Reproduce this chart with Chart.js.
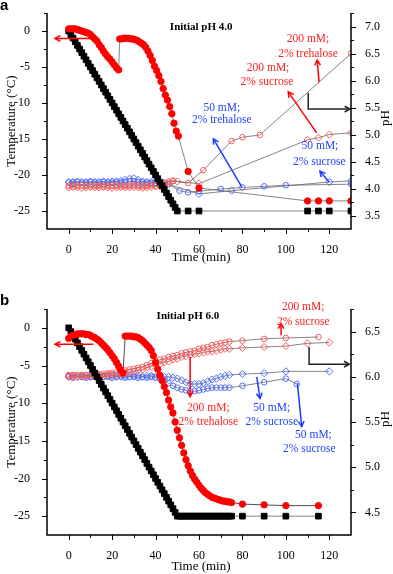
<!DOCTYPE html>
<html>
<head>
<meta charset="utf-8">
<script src="https://cdn.jsdelivr.net/npm/chart.js@4.4.1/dist/chart.umd.min.js"></script>
<style>
  body { margin: 0; background: #fff; }
  #wrap { position: relative; width: 393px; height: 574px; }
  canvas { position: absolute; left: 0; }
</style>
</head>
<body>
<div id="wrap">
  <canvas id="chartA" width="393" height="285" style="top:0"></canvas>
  <canvas id="chartB" width="393" height="289" style="top:285px"></canvas>
</div>
<script>
// Axis ticks
const timeTicks = [0, 20, 40, 60, 80, 100, 120];
const tempTicks = [-25, -20, -15, -10, -5, 0];
const phTicksA = [3.5, 4.0, 4.5, 5.0, 5.5, 6.0, 6.5, 7.0];
const phTicksB = [4.5, 5.0, 5.5, 6.0, 6.5];

// ---- Panel a (initial pH 4.0) ----
// cooling stage temperature (black squares)
const aCoolTime = [0,1,2,3,4,5,6,7,8,9,10,11,12,13,14,15,16,17,18,19,20,21,22,23,24,25,26,27,28,29,30,31,32,33,34,35,36,37,38,39,40,41,42,43,44,45,46,47,48,49,50,55,60,110,115,120,130];
const aCoolTemp = [0,-0.5,-1,-1.5,-2,-2.5,-3,-3.5,-4,-4.5,-5,-5.5,-6,-6.5,-7,-7.5,-8,-8.5,-9,-9.5,-10,-10.5,-11,-11.5,-12,-12.5,-13,-13.5,-14,-14.5,-15,-15.5,-16,-16.5,-17,-17.5,-18,-18.5,-19,-19.5,-20,-20.5,-21,-21.5,-22,-22.5,-23,-23.5,-24,-24.5,-25,-25,-25,-25,-25,-25,-25];
// sample temperature (red dots)
const aSampleTime = [0,1,2,3,4,5,6,7,8,9,10,11,12,13,14,15,16,17,18,19,20,21,22,23,23.5,24.5,25.5,26.5,27.5,28.5,29.5,30.5,31.5,32.5,33.5,34.5,35.5,36.5,37.5,38.5,39.5,40.5,41.5,42.5,43.5,44.5,45.5,46.5,47.5,48.5,49.5,50.5,55,60,110,115,120,130];
const aSampleTemp = [0.3,0.3,0.3,0.3,0.2,0.1,0,-0.1,-0.2,-0.3,-0.5,-0.8,-1.1,-1.4,-1.9,-2.3,-2.8,-3.2,-3.6,-3.9,-4.3,-4.7,-5.1,-5.4,-1.1,-1.1,-1.0,-1.0,-1.0,-1.1,-1.1,-1.2,-1.3,-1.5,-1.7,-1.9,-2.3,-2.8,-3.4,-4.1,-4.9,-5.5,-6.2,-7.0,-8.0,-8.9,-9.6,-10.5,-11.5,-12.8,-13.9,-14.6,-19.5,-21.8,-23.6,-23.6,-23.6,-23.6];
// pH series
const aTreh200Time = [0,2,4,6,8,10,12,14,16,18,20,22,24,26,28,30,32,34,36,38,40,42,44,46,48,55,62,75,80,88,130];
const aTreh200Ph = [4.05,4.04,4.05,4.06,4.05,4.04,4.05,4.05,4.04,4.05,4.06,4.05,4.04,4.05,4.05,4.06,4.05,4.04,4.05,4.06,4.05,4.08,4.10,4.13,4.14,4.10,4.34,4.88,4.95,4.99,6.50];
const aSuc200Time = [0,2,4,6,8,10,12,14,16,18,20,22,24,26,28,30,32,34,36,38,40,42,44,46,48,50,60,110,115,120,130];
const aSuc200Ph = [4.02,4.03,4.02,4.01,4.02,4.03,4.02,4.02,4.03,4.02,4.01,4.02,4.03,4.02,4.02,4.03,4.02,4.01,4.02,4.03,4.04,4.05,4.07,4.10,4.14,4.13,4.09,4.90,4.94,5.00,5.03];
const aTreh50Time = [0,2,4,6,8,10,12,14,16,18,20,22,24,26,28,30,32,34,36,38,40,42,44,46,51,55,60,70,80,90,100,130];
const aTreh50Ph = [4.11,4.11,4.12,4.11,4.11,4.12,4.11,4.11,4.12,4.11,4.11,4.12,4.11,4.12,4.13,4.13,4.12,4.11,4.11,4.10,4.10,4.10,4.09,4.08,3.96,3.93,3.95,3.99,4.02,4.04,4.06,4.08];
const aSuc50Time = [0,2,4,6,8,10,12,14,16,18,20,22,24,26,28,30,32,34,36,38,40,42,44,60,75,120,130];
const aSuc50Ph = [4.12,4.12,4.13,4.12,4.12,4.13,4.12,4.12,4.13,4.12,4.13,4.13,4.14,4.16,4.18,4.19,4.16,4.13,4.12,4.12,4.11,4.11,4.10,3.90,3.96,4.12,4.14];

// ---- Panel b (initial pH 6.0) ----
const bCoolTime = [0,1,2,3,4,5,6,7,8,9,10,11,12,13,14,15,16,17,18,19,20,21,22,23,24,25,26,27,28,29,30,31,32,33,34,35,36,37,38,39,40,41,42,43,44,45,46,47,48,49,50,51,52,53,54,55,56,57,58,59,60,61,62,63,64,65,66,67,68,69,70,71,72,73,74,75,80,90,100,115];
const bCoolTemp = [0,-0.5,-1,-1.5,-2,-2.5,-3,-3.5,-4,-4.5,-5,-5.5,-6,-6.5,-7,-7.5,-8,-8.5,-9,-9.5,-10,-10.5,-11,-11.5,-12,-12.5,-13,-13.5,-14,-14.5,-15,-15.5,-16,-16.5,-17,-17.5,-18,-18.5,-19,-19.5,-20,-20.5,-21,-21.5,-22,-22.5,-23,-23.5,-24,-24.5,-25,-25,-25,-25,-25,-25,-25,-25,-25,-25,-25,-25,-25,-25,-25,-25,-25,-25,-25,-25,-25,-25,-25,-25,-25,-25,-25,-25,-25,-25];
const bSampleTime = [0,1,2,3,4,5,6,7,8,9,10,11,12,13,14,15,16,17,18,19,20,21,22,23,24,25,26,27,28,29,30,31,32,33,34,35,36,37,38,39,40,41,42,43,44,45,46,47,48,49,50,51,52,53,54,55,56,57,58,59,60,61,62,63,64,65,66,67,68,69,70,71,72,73,74,75,80,90,100,115];
const bSampleTemp = [-1.4,-1.1,-1.0,-0.9,-0.8,-0.8,-0.8,-0.8,-0.9,-0.9,-1.0,-1.2,-1.3,-1.5,-1.7,-2.0,-2.3,-2.6,-2.9,-3.3,-3.7,-4.1,-4.6,-5.1,-5.6,-6.0,-1.1,-1.1,-1.1,-1.1,-1.2,-1.2,-1.3,-1.5,-1.7,-2.0,-2.3,-2.6,-3.0,-3.7,-4.6,-5.5,-6.3,-7.0,-7.8,-8.6,-9.6,-10.5,-11.3,-12.5,-13.6,-14.6,-15.6,-16.6,-17.5,-18.3,-19.0,-19.6,-20.1,-20.5,-20.9,-21.3,-21.6,-21.9,-22.1,-22.3,-22.5,-22.6,-22.7,-22.8,-22.9,-23.0,-23.0,-23.1,-23.1,-23.2,-23.4,-23.5,-23.6,-23.6];
const bSuc200Time = [0,2,4,6,8,10,12,14,16,18,20,22,24,26,28,30,32,34,36,38,40,42,44,46,48,50,52,54,56,58,60,62,64,66,68,70,72,74,80,90,100,115];
const bSuc200Ph = [6.02,6.02,6.02,6.02,6.02,6.02,6.03,6.03,6.03,6.04,6.04,6.05,6.06,6.07,6.08,6.09,6.10,6.11,6.13,6.15,6.17,6.19,6.20,6.22,6.23,6.24,6.26,6.27,6.28,6.29,6.31,6.32,6.33,6.35,6.36,6.37,6.38,6.39,6.40,6.42,6.43,6.44];
const bTreh200Time = [0,2,4,6,8,10,12,14,16,18,20,22,24,26,28,30,32,34,36,38,40,42,44,46,48,50,52,54,56,58,60,62,64,66,68,70,72,74,80,90,100,110,120];
const bTreh200Ph = [6.00,6.00,6.00,6.00,6.01,6.01,6.01,6.01,6.01,6.02,6.02,6.02,6.03,6.04,6.05,6.06,6.07,6.08,6.10,6.11,6.13,6.14,6.16,6.17,6.19,6.20,6.22,6.23,6.24,6.25,6.26,6.27,6.28,6.28,6.29,6.30,6.31,6.31,6.32,6.33,6.34,6.37,6.38];
const bSuc50aTime = [0,2,4,6,8,10,12,14,16,18,20,22,24,26,28,30,32,34,36,38,40,42,44,46,48,50,52,54,56,58,60,62,64,66,68,70,72,74,80,90,100,105];
const bSuc50aPh = [6.00,5.99,6.00,6.00,5.99,6.00,6.00,5.99,6.00,6.00,5.99,6.00,6.00,5.99,6.00,6.00,5.99,6.00,5.99,6.00,5.99,5.98,5.96,5.93,5.90,5.88,5.86,5.85,5.84,5.84,5.85,5.86,5.87,5.88,5.88,5.88,5.88,5.88,5.90,5.94,5.98,5.92];
const bSuc50bTime = [0,2,4,6,8,10,12,14,16,18,20,22,24,26,28,30,32,34,36,38,40,42,44,46,48,50,52,54,56,58,60,62,64,66,68,70,72,74,80,90,100,120];
const bSuc50bPh = [6.01,6.01,6.00,6.01,6.01,6.00,6.01,6.01,6.00,6.01,6.01,6.00,6.01,6.01,6.00,6.01,6.01,6.00,6.01,6.01,6.00,6.01,6.00,6.00,5.99,5.98,5.96,5.94,5.92,5.92,5.92,5.93,5.95,5.97,5.98,6.00,6.01,6.02,6.03,6.04,6.06,6.06];

const RED = '#ff0000', RED_TXT = '#ff2020', RED_OPEN = '#ff5a5a';
const BLUE = '#1a3cff', BLUE_TXT = '#2244ff', BLUE_OPEN = '#4f6dff';
const SERIF = '"Liberation Serif", "Times New Roman", serif';

const pairs = (ts, vs) => ts.map((t, i) => ({ x: t, y: vs[i] }));

function series(ts, vs, axis, style) {
  return Object.assign({
    data: pairs(ts, vs), yAxisID: axis, showLine: true, tension: 0,
    borderColor: '#666', borderWidth: 0.8, pointBorderWidth: 1, pointHoverRadius: 0
  }, style);
}

const filledRed = { pointStyle: 'circle', pointRadius: 3.2, pointBackgroundColor: RED, pointBorderColor: RED };
const blackSq = { pointStyle: 'rect', pointRadius: 4, pointBackgroundColor: '#000', pointBorderColor: '#000' };
const openRedC = { pointStyle: 'circle', pointRadius: 2.8, pointBackgroundColor: 'rgba(0,0,0,0)', pointBorderColor: RED_OPEN };
const openRedD = { pointStyle: 'rectRot', pointRadius: 3.6, pointBackgroundColor: 'rgba(0,0,0,0)', pointBorderColor: RED_OPEN };
const openBlueC = { pointStyle: 'circle', pointRadius: 2.8, pointBackgroundColor: 'rgba(0,0,0,0)', pointBorderColor: BLUE_OPEN };
const openBlueD = { pointStyle: 'rectRot', pointRadius: 3.6, pointBackgroundColor: 'rgba(0,0,0,0)', pointBorderColor: BLUE_OPEN };

const mids = arr => arr.slice(1).map((v, i) => (v + arr[i]) / 2);

function makeScales(phMin, phMax, phTicks, xHeight) {
  const tickFont = { family: SERIF, size: 12 };
  return {
    x: {
      type: 'linear', position: 'bottom', min: -10, max: 130,
      grid: { display: false }, border: { display: false },
      afterBuildTicks: s => { s.ticks = timeTicks.map(v => ({ value: v })); },
      afterFit: s => { s.height = xHeight; s.paddingLeft = 0; s.paddingRight = 0; },
      ticks: { padding: 6, color: '#000', font: tickFont, maxRotation: 0, autoSkip: false, callback: v => String(v) }
    },
    yT: {
      type: 'linear', position: 'left', min: -27.5, max: 2.5,
      grid: { display: false }, border: { display: false },
      afterBuildTicks: s => { s.ticks = tempTicks.map(v => ({ value: v })); },
      afterFit: s => { s.width = 47; s.paddingTop = 0; s.paddingBottom = 0; },
      ticks: { padding: 9, color: '#000', font: tickFont, autoSkip: false, callback: v => String(v) }
    },
    yP: {
      type: 'linear', position: 'right', min: phMin, max: phMax,
      grid: { display: false }, border: { display: false },
      afterBuildTicks: s => { s.ticks = phTicks.map(v => ({ value: v })); },
      afterFit: s => { s.width = 42; s.paddingTop = 0; s.paddingBottom = 0; },
      ticks: { padding: 6, color: '#000', font: tickFont, autoSkip: false, callback: v => Number(v).toFixed(1) }
    }
  };
}

function drawArrow(ctx, pts, color) {
  ctx.strokeStyle = color;
  ctx.lineWidth = 1.5;
  ctx.beginPath();
  ctx.moveTo(pts[0][0], pts[0][1]);
  for (let i = 1; i < pts.length; i++) ctx.lineTo(pts[i][0], pts[i][1]);
  ctx.stroke();
  const [x1, y1] = pts[pts.length - 2], [x2, y2] = pts[pts.length - 1];
  const ang = Math.atan2(y2 - y1, x2 - x1), h = 6;
  ctx.beginPath();
  ctx.moveTo(x2 - h * Math.cos(ang - 0.5), y2 - h * Math.sin(ang - 0.5));
  ctx.lineTo(x2, y2);
  ctx.lineTo(x2 - h * Math.cos(ang + 0.5), y2 - h * Math.sin(ang + 0.5));
  ctx.stroke();
}

function decor(cfg) {
  return {
    id: 'decor',
    afterDraw(chart) {
      const ctx = chart.ctx, a = chart.chartArea;
      const xs = chart.scales.x, yl = chart.scales.yT, yr = chart.scales.yP;
      const X = t => xs.getPixelForValue(t), P = p => yr.getPixelForValue(p);
      ctx.save();
      // axis lines
      ctx.strokeStyle = '#000';
      ctx.lineWidth = 1.5;
      ctx.beginPath();
      ctx.moveTo(a.left, a.top); ctx.lineTo(a.left, a.bottom);
      ctx.lineTo(a.right, a.bottom); ctx.lineTo(a.right, a.top);
      ctx.stroke();
      // tick marks
      ctx.lineWidth = 1;
      ctx.beginPath();
      const tk = (vals, len, fn) => vals.forEach(v => fn(v, len));
      const xt = (v, len) => { const x = Math.round(X(v)) + 0.5; ctx.moveTo(x, a.bottom); ctx.lineTo(x, a.bottom + len); };
      const lt = (v, len) => { const y = Math.round(yl.getPixelForValue(v)) + 0.5; ctx.moveTo(a.left, y); ctx.lineTo(a.left - len, y); };
      const rt = (v, len) => { const y = Math.round(P(v)) + 0.5; ctx.moveTo(a.right, y); ctx.lineTo(a.right + len, y); };
      tk(timeTicks, 5, xt); tk(mids(timeTicks), 3, xt);
      tk(tempTicks, 5, lt); tk(mids(tempTicks).concat([2.5]), 3, lt);
      tk(cfg.phTicks, 5, rt); tk(mids(cfg.phTicks).concat(cfg.phExtra), 3, rt);
      ctx.stroke();

      // axis titles
      ctx.fillStyle = '#000';
      ctx.font = '13px ' + SERIF;
      ctx.textAlign = 'center';
      ctx.textBaseline = 'middle';
      ctx.fillText('Time (min)', (a.left + a.right) / 2 + 2, a.bottom + cfg.timeTitleDy);
      const cy = (a.top + a.bottom) / 2;
      ctx.save(); ctx.translate(12, cy); ctx.rotate(-Math.PI / 2);
      ctx.fillText('Temperature (°C)', 0, 0); ctx.restore();
      ctx.save(); ctx.translate(386, cy - 3); ctx.rotate(-Math.PI / 2);
      ctx.fillText('pH', 0, 0); ctx.restore();

      // panel letter
      ctx.textAlign = 'left';
      ctx.textBaseline = 'alphabetic';
      ctx.font = 'bold 15px "Liberation Sans", Arial, sans-serif';
      ctx.fillText(cfg.letter, 0, cfg.letterY);

      // panel heading
      ctx.textAlign = 'center';
      ctx.textBaseline = 'middle';
      ctx.font = 'bold 11px ' + SERIF;
      ctx.fillText(cfg.title[0], X(cfg.title[1]), P(cfg.title[2]));

      // arrows and labels
      cfg.arrows.forEach(([pts, color]) => drawArrow(ctx, pts.map(([t, p]) => [X(t), P(p)]), color));
      ctx.font = '11.5px ' + SERIF;
      cfg.labels.forEach(([txt, t, p, color]) => { ctx.fillStyle = color; ctx.fillText(txt, X(t), P(p)); });
      ctx.restore();
    }
  };
}

const notesA = {
  letter: 'a', letterY: 10, timeTitleDy: 29,
  phTicks: phTicksA, phExtra: [7.25],
  title: ['Initial pH 4.0', 61, 6.98],
  labels: [
    ['200 mM;', 110.2, 6.76, RED_TXT], ['2% trehalose', 110.2, 6.50, RED_TXT],
    ['200 mM;', 91.8, 6.23, RED_TXT], ['2% sucrose', 91.3, 5.97, RED_TXT],
    ['50 mM;', 70.5, 5.50, BLUE_TXT], ['2% trehalose', 70.5, 5.26, BLUE_TXT],
    ['50 mM;', 115.7, 4.79, BLUE_TXT], ['2% sucrose', 115.4, 4.49, BLUE_TXT]
  ],
  arrows: [
    [[[10.7, 6.78], [-6.3, 6.78]], RED],
    [[[110.3, 5.77], [110.3, 5.47], [129.5, 5.47]], '#222'],
    [[[115.3, 5.97], [114.4, 6.38]], RED],
    [[[114.2, 5.03], [101.1, 5.79]], RED],
    [[[79.7, 4.03], [66.6, 4.92]], BLUE],
    [[[119.9, 4.12], [115.7, 4.32]], BLUE]
  ]
};

const notesB = {
  letter: 'b', letterY: 20, timeTitleDy: 32,
  phTicks: phTicksB, phExtra: [6.75],
  title: ['Initial pH 6.0', 54.9, 6.67],
  labels: [
    ['200 mM;', 108, 6.77, RED_TXT], ['2% sucrose', 108, 6.61, RED_TXT],
    ['200 mM;', 64.3, 5.66, RED_TXT], ['2% trehalose', 64.3, 5.50, RED_TXT],
    ['50 mM;', 93.5, 5.66, BLUE_TXT], ['2% sucrose', 93.5, 5.50, BLUE_TXT],
    ['50 mM;', 112.7, 5.36, BLUE_TXT], ['2% sucrose', 110.8, 5.20, BLUE_TXT]
  ],
  arrows: [
    [[[11.3, 6.36], [-6.3, 6.36]], RED],
    [[[110.7, 6.33], [110.7, 6.14], [129.2, 6.14]], '#222'],
    [[[97.8, 6.46], [97.8, 6.59]], RED],
    [[[55.9, 6.22], [55.9, 5.78]], RED],
    [[[86.6, 6.0], [88.1, 5.76]], BLUE],
    [[[105.3, 5.93], [107.3, 5.45]], BLUE]
  ]
};

function makeChart(id, datasets, scales, topPad, notes) {
  return new Chart(document.getElementById(id), {
    type: 'line',
    data: { datasets },
    options: {
      responsive: false, animation: false, events: [],
      layout: { padding: { top: topPad, left: 0, right: 0, bottom: 0 } },
      plugins: { legend: { display: false }, tooltip: { enabled: false } },
      scales
    },
    plugins: [decor(notes)]
  });
}

makeChart('chartA', [
  series(aSampleTime, aSampleTemp, 'yT', filledRed),
  series(aCoolTime, aCoolTemp, 'yT', blackSq),
  series(aTreh200Time, aTreh200Ph, 'yP', openRedC),
  series(aSuc200Time, aSuc200Ph, 'yP', openRedD),
  series(aTreh50Time, aTreh50Ph, 'yP', openBlueC),
  series(aSuc50Time, aSuc50Ph, 'yP', openBlueD)
], makeScales(3.25, 7.25, phTicksA, 56), 13, notesA);

makeChart('chartB', [
  series(bSampleTime, bSampleTemp, 'yT', Object.assign({ borderColor: '#222' }, filledRed)),
  series(bCoolTime, bCoolTemp, 'yT', blackSq),
  series(bSuc200Time, bSuc200Ph, 'yP', openRedC),
  series(bTreh200Time, bTreh200Ph, 'yP', openRedD),
  series(bSuc50aTime, bSuc50aPh, 'yP', openBlueC),
  series(bSuc50bTime, bSuc50bPh, 'yP', openBlueD)
], makeScales(4.25, 6.75, phTicksB, 39), 24, notesB);
</script>
</body>
</html>
